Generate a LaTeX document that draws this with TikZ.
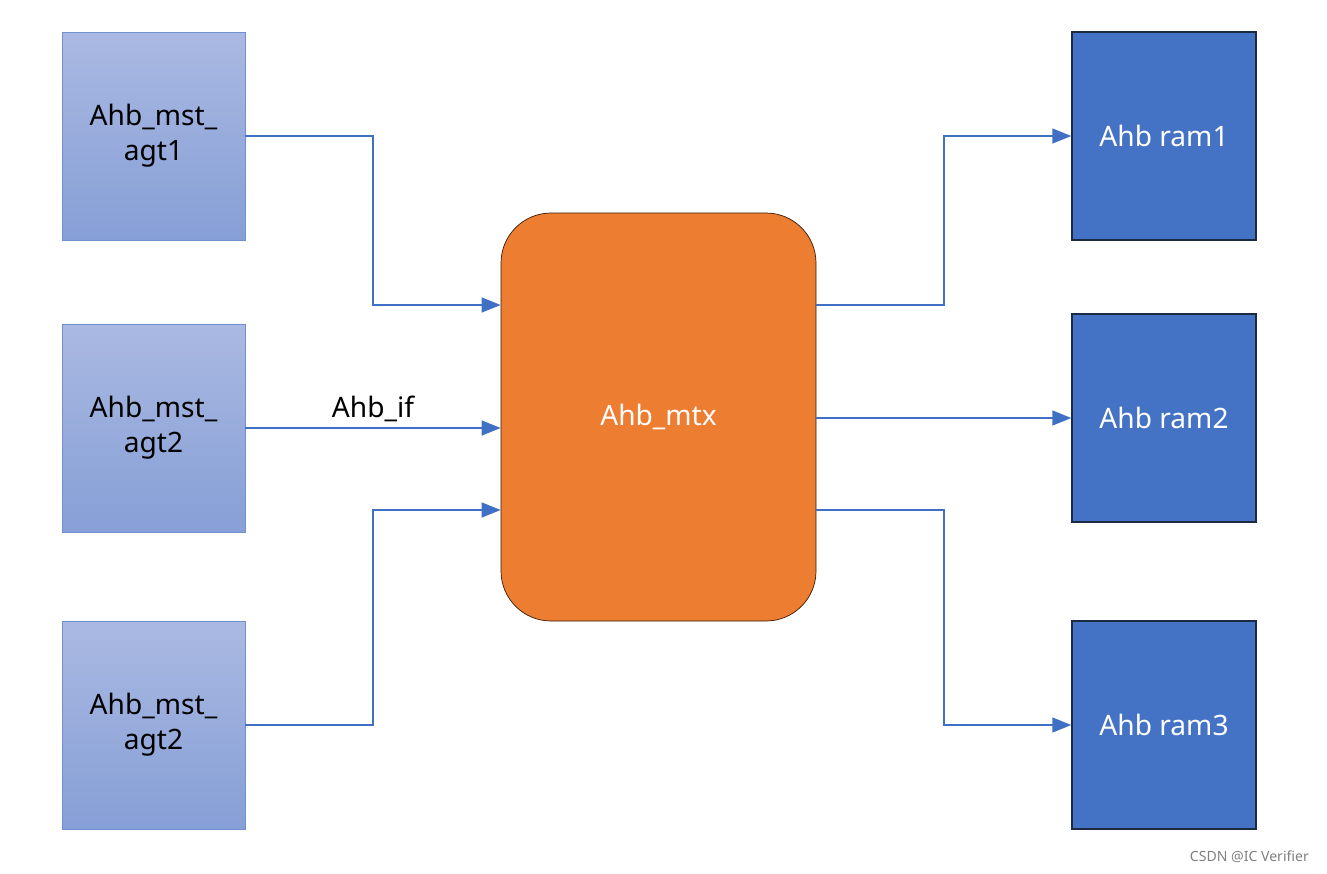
\documentclass[tikz,border=0pt]{standalone}
\usepackage{fontspec}
\setmainfont{Noto Sans}
\usetikzlibrary{arrows.meta}
\usetikzlibrary{positioning}

\definecolor{mstTop}{HTML}{AAB9E2}
\definecolor{mstBot}{HTML}{869FD6}
\definecolor{mstLine}{HTML}{7090D0}
\definecolor{ramFill}{HTML}{4472C4}
\definecolor{ramLine}{HTML}{1C2A44}
\definecolor{mtxFill}{HTML}{ED7D31}
\definecolor{mtxLine}{HTML}{3A1A08}
\definecolor{wire}{HTML}{4070C4}

\tikzset{
    mst/.style = {draw=mstLine, top color=mstTop, bottom color=mstBot,
        minimum width=3.66cm, minimum height=4.16cm, align=center,
        font=\fontsize{16}{20}\selectfont},
    ram/.style = {draw=ramLine, thick, fill=ramFill, text=white,
        minimum width=3.68cm, minimum height=4.16cm,
        font=\fontsize{16}{20}\selectfont},
    link/.style = {draw=wire, thick, -{Triangle[length=0.38cm, width=0.3cm]}},
}

\begin{document}
\begin{tikzpicture}
    \useasboundingbox (0,0) rectangle (26.54,-17.46);

    % masters on the left
    \node [mst] (agt1) at (3.07,-2.72) {Ahb\_mst\_\\agt1};
    \node [mst] (agt2) at (3.07,-8.56) {Ahb\_mst\_\\agt2};
    \node [mst] (agt3) at (3.07,-14.5) {Ahb\_mst\_\\agt2};

    % matrix in the middle
    \node [draw=mtxLine, fill=mtxFill, rounded corners=1cm, text=white,
        minimum width=6.3cm, minimum height=8.16cm,
        font=\fontsize{16}{20}\selectfont] (mtx) at (13.17,-8.34) {Ahb\_mtx};

    % rams on the right
    \node [ram] (ram1) at (23.28,-2.72) {Ahb ram1};
    \node [ram] (ram2) at (23.28,-8.36) {Ahb ram2};
    \node [ram] (ram3) at (23.28,-14.5) {Ahb ram3};

    \coordinate (in1) at (mtx.west |- 0,-6.1);
    \coordinate (in3) at (mtx.west |- 0,-10.2);
    \coordinate (out1) at (mtx.east |- 0,-6.1);
    \coordinate (out3) at (mtx.east |- 0,-10.2);

    \draw [link] (agt1.east) -| (7.46,-6.1) -- (in1);
    \draw [link] (agt2.east) -- node [above, font=\fontsize{16}{20}\selectfont] {Ahb\_if} (agt2.east -| mtx.west);
    \draw [link] (agt3.east) -| (7.46,-10.2) -- (in3);

    \draw [link] (out1) -| (18.88,-2.72) -- (ram1.west);
    \draw [link] (mtx.east |- ram2.west) -- (ram2.west);
    \draw [link] (out3) -| (18.88,-14.5) -- (ram3.west);

    \node [gray, font=\fontsize{8}{10}\selectfont, anchor=east] (mark) at (26.3,-17.14) {CSDN @IC Verifier};
\end{tikzpicture}
\end{document}
